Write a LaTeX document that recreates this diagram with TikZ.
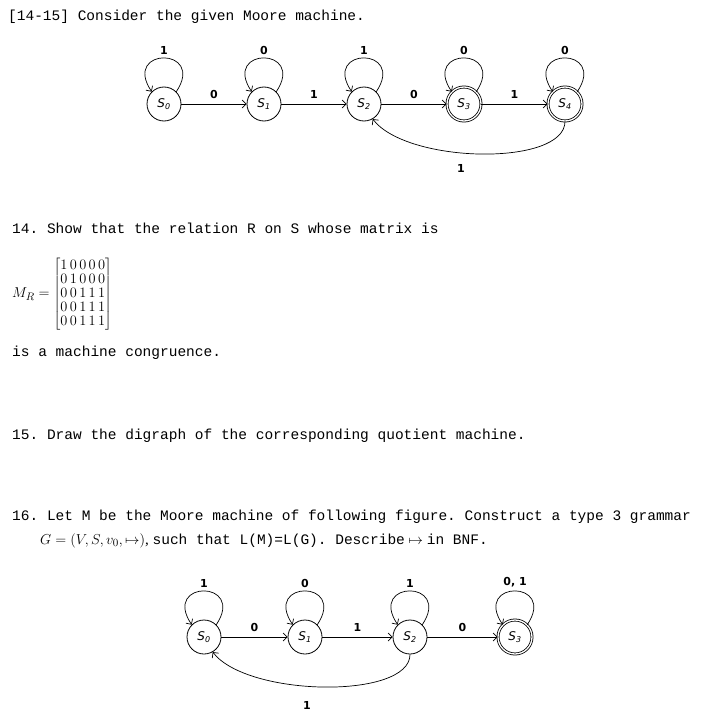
\documentclass[tikz,border=0pt]{standalone}
\usepackage{fontspec}
\setmainfont{Liberation Serif}
\setmonofont{Liberation Mono}
\setsansfont{DejaVu Sans}
\usetikzlibrary{arrows.meta}
\begin{document}
\begin{tikzpicture}[x=1pt,y=-1pt,
  st/.style={circle,draw,line width=0.8pt,minimum size=34pt,inner sep=0pt,font=\sffamily\itshape\large},
  acc/.style={st,double,double distance=1.3pt},
  tr/.style={draw,line width=0.7pt,-{Straight Barb[length=4pt]}},
  lb/.style={font=\sffamily\bfseries\fontsize{11}{12}\selectfont},
  txt/.style={anchor=west,font=\ttfamily\fontsize{14.5}{16}\selectfont,inner sep=0pt},
  mth/.style={anchor=west,font=\fontsize{15}{16}\selectfont,inner sep=0pt}]
\useasboundingbox (0,0) rectangle (716,717);
\node[txt] (t0) at (8,17) {[14-15] Consider the given Moore machine.};
% top diagram
\node[st] (a0) at (164,104) {S\textsubscript{0}};
\node[st] (a1) at (264,104) {S\textsubscript{1}};
\node[st] (a2) at (364,104) {S\textsubscript{2}};
\node[acc] (a3) at (464,104) {S\textsubscript{3}};
\node[acc] (a4) at (565,104) {S\textsubscript{4}};
\foreach \n/\l in {a0/1,a1/0,a2/1,a3/0,a4/0}{
  \draw[tr] (\n.45) .. controls +(30,-45) and +(-30,-45) .. node[lb,above,pos=0.5] {\l} (\n.135);}
\draw[tr] (a0) -- node[lb,above=2pt] {0} (a1);
\draw[tr] (a1) -- node[lb,above=2pt] {1} (a2);
\draw[tr] (a2) -- node[lb,above=2pt] {0} (a3);
\draw[tr] (a3) -- node[lb,above=2pt] {1} (a4);
\draw[tr] (a4.south) .. controls +(0,45) and +(35,45) .. (a2.-60);
\node[lb] (l1) at (461,168) {1};
% text
\node[txt] (t1) at (12,228) {14. Show that the relation R on S whose matrix is};
\node[mth] (mr) at (12,294) {$M_R=\left[\begin{array}{@{}c@{}}1\,0\,0\,0\,0\\[-2pt]0\,1\,0\,0\,0\\[-2pt]0\,0\,1\,1\,1\\[-2pt]0\,0\,1\,1\,1\\[-2pt]0\,0\,1\,1\,1\end{array}\right]$};
\node[txt] (t2) at (12,353) {is a machine congruence.};
\node[txt] (t3) at (12,436) {15. Draw the digraph of the corresponding quotient machine.};
\node[txt] (t4) at (12,517) {16. Let M be the Moore machine of following figure. Construct a type 3 grammar};
\node[mth] (t5) at (40,541) {$G=(V,S,v_0,\mapsto)$, {\ttfamily\fontsize{14.5}{16}\selectfont such that L(M)=L(G). Describe} $\mapsto$ {\ttfamily\fontsize{14.5}{16}\selectfont in BNF.}};
% bottom diagram
\node[st] (b0) at (204,637) {S\textsubscript{0}};
\node[st] (b1) at (305,637) {S\textsubscript{1}};
\node[st] (b2) at (410,637) {S\textsubscript{2}};
\node[acc] (b3) at (515,637) {S\textsubscript{3}};
\foreach \n/\l in {b0/1,b1/0,b2/1,b3/{0, 1}}{
  \draw[tr] (\n.45) .. controls +(30,-45) and +(-30,-45) .. node[lb,above,pos=0.5] {\l} (\n.135);}
\draw[tr] (b0) -- node[lb,above=2pt] {0} (b1);
\draw[tr] (b1) -- node[lb,above=2pt] {1} (b2);
\draw[tr] (b2) -- node[lb,above=2pt] {0} (b3);
\draw[tr] (b2.south) .. controls +(0,45) and +(35,45) .. (b0.-60);
\node[lb] (l2) at (307,705) {1};
\end{tikzpicture}
\end{document}
